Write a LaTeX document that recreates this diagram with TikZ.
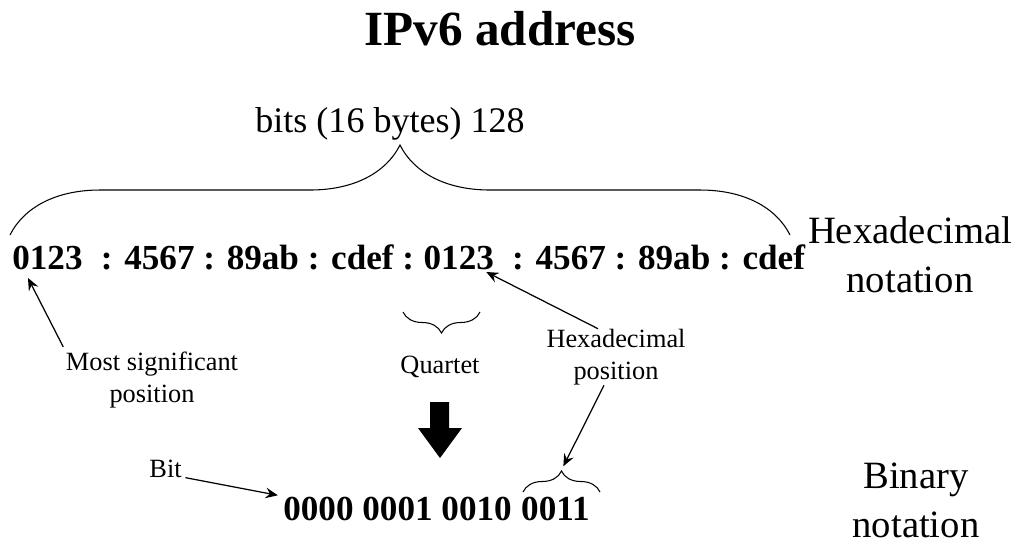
\documentclass[tikz,border=0pt]{standalone}
\usepackage{fontspec}
\setmainfont{Liberation Serif}
\usetikzlibrary{positioning,decorations.pathreplacing,arrows.meta}

\tikzset{
	hexfont/.style={font=\fontsize{20}{24}\selectfont\bfseries, inner sep=0pt},
	notefont/.style={font=\fontsize{22}{28}\selectfont, align=center, inner sep=0pt},
	smallfont/.style={font=\fontsize{15}{18.2}\selectfont, align=center, inner sep=0pt},
	pointer/.style={-{Stealth[length=7pt,width=6pt,inset=2.5pt]}, line width=0.7pt},
	bracket/.style={decorate, decoration={brace,amplitude=#1}, line width=0.6pt},
}

\begin{document}
\begin{tikzpicture}[x=0.02cm,y=-0.02cm]
	\useasboundingbox (0,0) rectangle (1024,555);

	% Title and the 128 bits
		\node[font=\fontsize{28}{32}\selectfont\bfseries, anchor=base, inner sep=0pt] (title) at (500,45) {IPv6 address};
		\node[font=\fontsize{20.5}{24}\selectfont, anchor=base, inner sep=0pt] (bits) at (390,132) {bits (16 bytes) 128};
		\draw[bracket=1.8cm] (10,235) -- (790,235);

	% Hexadecimal line
		\node[hexfont, anchor=base west] (q1) at (12,269) {0123};
		\node[hexfont, base right=0pt of q1] (mid) {\ \ : 4567 : 89ab : cdef :};
		\node[hexfont, base right=0pt of mid] (q5) {\ 0123};
		\node[hexfont, base right=0pt of q5] (tail) {\ \ : 4567 : 89ab : cdef};
		\node[notefont] (hexnote) at (910,255) {Hexadecimal\\notation};

	% Labels under the line
		\node[smallfont] (msp) at (152,380) {Most significant\\position};
		\draw[pointer, shorten <=3pt] (msp.north west) -- ([xshift=0.32cm,yshift=-0.18cm]q1.base west);
		\draw[bracket=0.42cm] (480,312) -- (403,312);
		\node[smallfont, anchor=base] (quart) at (440,373) {Quartet};
		\fill (430,402) -- (449,402) -- (449,428) -- (462,428) -- (440,458) -- (418,428) -- (430,428) -- cycle;
		\node[smallfont] (hpos) at (616,357) {Hexadecimal\\position};
		\draw[pointer] ([xshift=-0.36cm]hpos.north) -- ([xshift=-0.16cm,yshift=-0.06cm]q5.base east);

	% Binary line
		\node[hexfont, anchor=base west] (bin) at (283,520) {0000 0001 0010};
		\node[hexfont, base right=0pt of bin] (b4) {\ 0011};
		\node[notefont] (binnote) at (916,500) {Binary\\notation};
		\draw[bracket=0.42cm] (523,492) -- (600,492);
		\coordinate (bt) at (561,471);
		\draw[pointer, shorten >=3pt] ([xshift=-0.24cm]hpos.south) -- (bt);
		\node[smallfont, anchor=base east] (bit) at (182,477) {Bit};
		\draw[pointer, shorten <=2pt, shorten >=3pt] (bit.base east) -- (bin.north west);
\end{tikzpicture}
\end{document}
